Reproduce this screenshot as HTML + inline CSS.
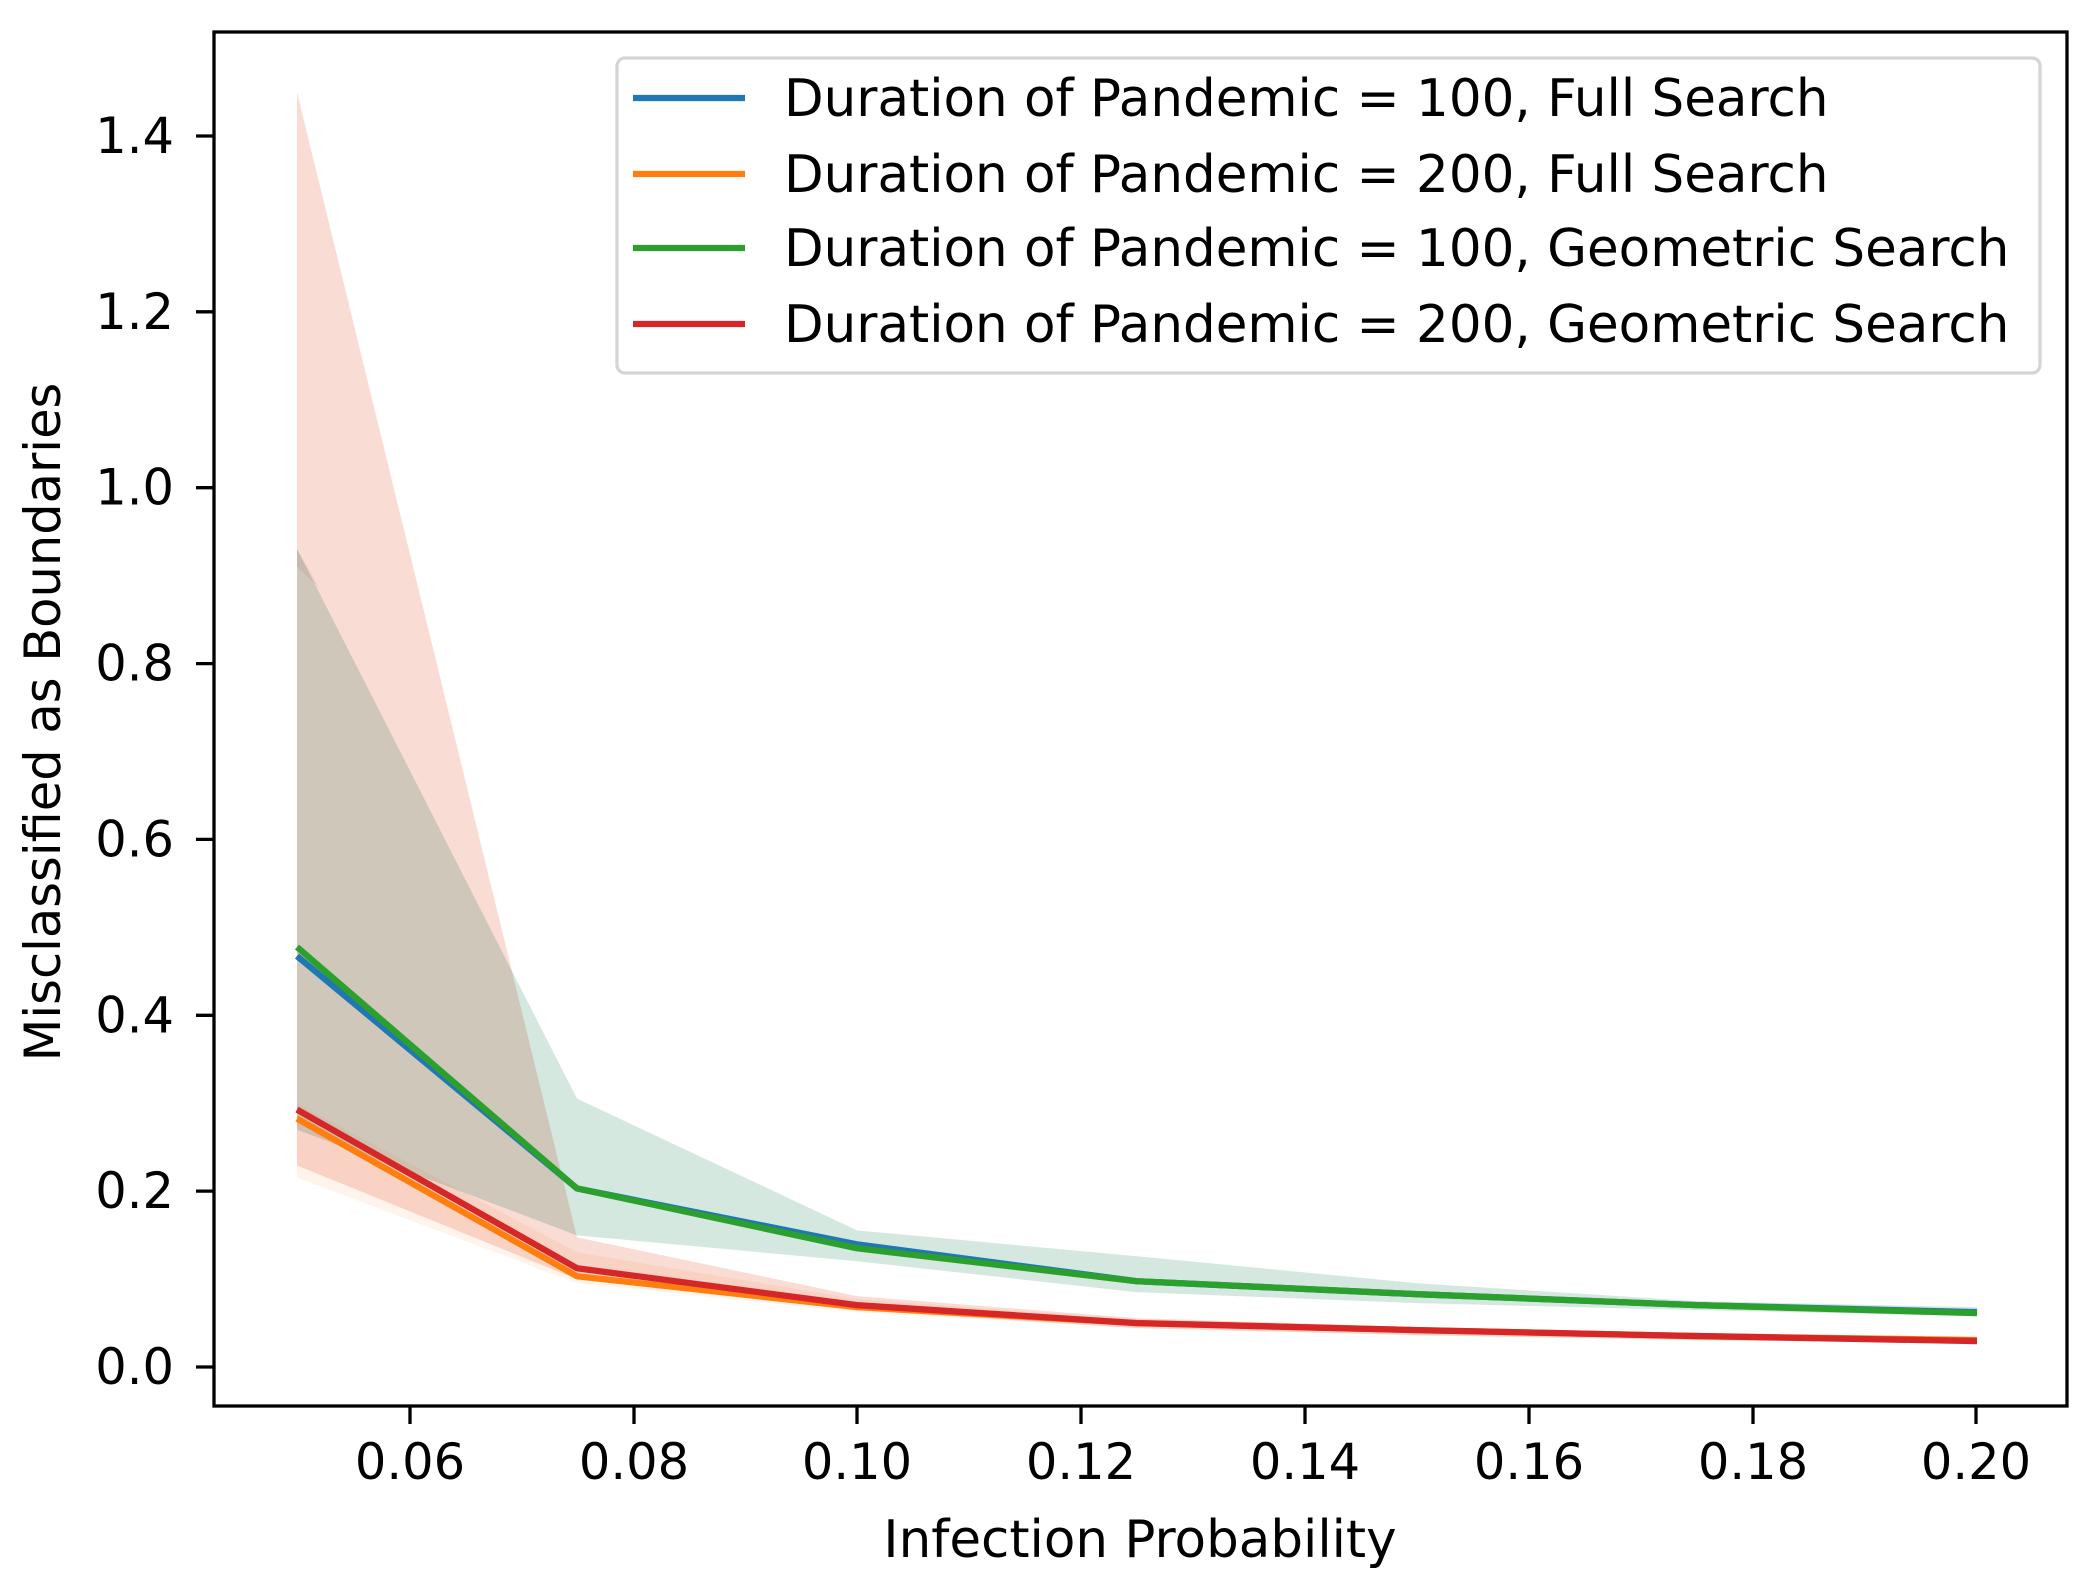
<!DOCTYPE html>
<html><head><meta charset="utf-8"><style>
html,body{margin:0;padding:0;background:#fff;}
svg{display:block;font-family:"DejaVu Sans","Liberation Sans",sans-serif;}
.b{mix-blend-mode:multiply;}
</style></head><body>
<svg width="2087" height="1578" viewBox="0 0 2087 1578" xmlns="http://www.w3.org/2000/svg">
<rect width="2087" height="1578" fill="#fff"/>
<g transform="matrix(1 0 0 0.9975 0 0.425)">
<g style="isolation:isolate">
<polygon class="b" fill="#f9dcd4" points="297,92 577,1240 857,1299 1137,1321 1417,1330 1697,1337 1977,1341 1977,1346 1697,1343 1417,1338 1137,1331 857,1313 577,1282 297,1168"/>
<polygon class="b" fill="#fff4ec" points="297,1106 577,1255 857,1302 1137,1322 1417,1330 1697,1337 1977,1341 1977,1346 1697,1343 1417,1338 1137,1331 857,1315 577,1286 297,1180"/>
<polygon class="b" fill="#d4e8e0" points="297,550 577,1101 857,1233 1137,1259 1417,1286 1697,1304 1977,1310 1977,1319 1697,1313 1417,1306 1137,1295 857,1264 577,1238 297,1132"/>
<polygon class="b" fill="#f6eeee" points="297,550 320,590 297,568"/>
</g>
<g fill="none" stroke-width="6.3" stroke-linejoin="round">
<polyline stroke="#1f77b4" points="297,958 577,1191 857,1247 1137,1284 1417,1297 1697,1308 1977,1315"/>
<polyline stroke="#ff7f0e" points="297,1121 577,1279 857,1310 1137,1326 1417,1333 1697,1339 1977,1343"/>
<polyline stroke="#2ca02c" points="297,949 577,1191 857,1251 1137,1284 1417,1297 1697,1308 1977,1316"/>
<polyline stroke="#d62728" points="297,1112 577,1271 857,1308 1137,1326 1417,1333 1697,1339 1977,1344"/>
</g>
</g>
<rect x="214" y="32" width="1853" height="1374" fill="none" stroke="#000" stroke-width="3.3"/>
<g stroke="#000" stroke-width="3.3">
<line x1="196" y1="1367" x2="214" y2="1367"/>
<line x1="196" y1="1191.1" x2="214" y2="1191.1"/>
<line x1="196" y1="1015.3" x2="214" y2="1015.3"/>
<line x1="196" y1="839.4" x2="214" y2="839.4"/>
<line x1="196" y1="663.6" x2="214" y2="663.6"/>
<line x1="196" y1="487.7" x2="214" y2="487.7"/>
<line x1="196" y1="311.8" x2="214" y2="311.8"/>
<line x1="196" y1="136" x2="214" y2="136"/>
<line x1="410" y1="1406" x2="410" y2="1424"/>
<line x1="634" y1="1406" x2="634" y2="1424"/>
<line x1="857" y1="1406" x2="857" y2="1424"/>
<line x1="1081" y1="1406" x2="1081" y2="1424"/>
<line x1="1305" y1="1406" x2="1305" y2="1424"/>
<line x1="1529" y1="1406" x2="1529" y2="1424"/>
<line x1="1753" y1="1406" x2="1753" y2="1424"/>
<line x1="1976" y1="1406" x2="1976" y2="1424"/>
</g>
<g font-size="49.5" fill="#000" text-anchor="end">
<text x="174" y="1384">0.0</text>
<text x="174" y="1208.1">0.2</text>
<text x="174" y="1032.3">0.4</text>
<text x="174" y="856.4">0.6</text>
<text x="174" y="680.6">0.8</text>
<text x="174" y="504.7">1.0</text>
<text x="174" y="328.8">1.2</text>
<text x="174" y="153">1.4</text>
</g>
<g font-size="49.5" fill="#000" text-anchor="middle">
<text x="410" y="1479">0.06</text>
<text x="634" y="1479">0.08</text>
<text x="857" y="1479">0.10</text>
<text x="1081" y="1479">0.12</text>
<text x="1305" y="1479">0.14</text>
<text x="1529" y="1479">0.16</text>
<text x="1753" y="1479">0.18</text>
<text x="1976" y="1479">0.20</text>
<text x="1140" y="1557" font-size="51.5">Infection Probability</text>
<text transform="translate(60,722) rotate(-90)">Misclassified as Boundaries</text>
</g>
<rect x="617" y="58" width="1423" height="315" rx="8" fill="#fff" fill-opacity="0.8" stroke="#d5d5d5" stroke-width="3.3"/>
<g stroke-width="6.3">
<line x1="633" y1="98" x2="745" y2="98" stroke="#1f77b4"/>
<line x1="633" y1="174" x2="745" y2="174" stroke="#ff7f0e"/>
<line x1="633" y1="248" x2="745" y2="248" stroke="#2ca02c"/>
<line x1="633" y1="324" x2="745" y2="324" stroke="#d62728"/>
</g>
<g font-size="51.5" fill="#000">
<text x="784" y="116">Duration of Pandemic = 100, Full Search</text>
<text x="784" y="192">Duration of Pandemic = 200, Full Search</text>
<text x="784" y="266">Duration of Pandemic = 100, Geometric Search</text>
<text x="784" y="342">Duration of Pandemic = 200, Geometric Search</text>
</g>
</svg>
</body></html>
